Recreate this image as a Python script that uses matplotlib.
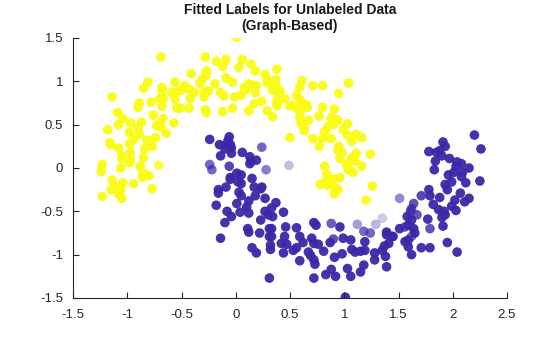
import numpy as np
import matplotlib
matplotlib.use("Agg")
import matplotlib.pyplot as plt

# ---------------- data ----------------
# Class 1 (yellow): x, y
yellow_pts = [
    (-0.69, 1.28), (-1.14, 0.82), (-0.81, 0.99), (-0.85, 0.92), (-0.68, 0.93), (-0.68, 0.90),
    (-0.56, 0.99), (-0.59, 0.87), (-0.53, 0.89), (-0.89, 0.75), (-0.90, 0.70), (-0.78, 0.76),
    (-0.70, 0.80), (-0.67, 0.80), (-0.56, 0.79), (-0.68, 0.71), (-0.54, 0.69), (-1.09, 0.64),
    (-1.04, 0.57), (-1.08, 0.50), (-0.97, 0.52), (-0.87, 0.53), (-0.76, 0.61), (-0.67, 0.57),
    (-0.73, 0.49), (-0.70, 0.51), (-0.69, 0.47), (-0.57, 0.52), (-0.64, 0.40), (-0.90, 0.46),
    (-1.18, 0.44), (-0.98, 0.41), (-0.89, 0.39), (-0.94, 0.33), (-0.82, 0.32), (-0.74, 0.35),
    (-1.16, 0.29), (-1.15, 0.27), (-0.98, 0.28), (-1.08, 0.23), (-0.77, 0.25), (-0.84, 0.22),
    (-0.97, 0.18), (-1.05, 0.14), (-1.05, 0.11), (-0.97, 0.09), (-0.98, 0.06), (-0.85, 0.12),
    (-1.23, 0.04), (-1.06, 0.00), (-0.88, 0.02), (-0.71, 0.03),
    (-1.24, -0.04), (-0.86, -0.05), (-0.86, -0.11), (-0.82, -0.08), (-0.80, -0.09), (-1.14, -0.14),
    (-1.04, -0.17), (-0.94, -0.18), (-1.10, -0.22), (-1.15, -0.25), (-1.06, -0.25), (-1.08, -0.30),
    (-1.05, -0.35), (-1.23, -0.33), (-0.77, -0.24),
    (0.01, 1.51), (-0.28, 1.28), (-0.18, 1.23), (-0.09, 1.25), (-0.12, 1.17), (0.06, 1.25),
    (0.03, 1.16), (0.14, 1.20), (0.18, 1.12), (0.38, 1.14), (0.27, 1.08), (0.29, 1.02),
    (0.29, 0.98), (0.37, 1.02), (0.37, 0.95), (-0.41, 1.09), (-0.27, 1.12), (-0.27, 1.07),
    (-0.31, 1.02), (-0.33, 0.98), (-0.09, 1.04), (-0.03, 0.99), (-0.19, 0.97), (-0.47, 0.95),
    (-0.43, 0.91), (-0.38, 0.87), (-0.51, 0.89), (-0.42, 0.80), (-0.43, 0.69), (-0.51, 0.69),
    (-0.29, 0.88), (-0.25, 0.89), (-0.29, 0.82), (-0.14, 0.87), (-0.11, 0.83), (-0.01, 0.82),
    (0.05, 0.84), (0.08, 0.93), (0.12, 0.97), (0.15, 0.96), (0.19, 0.95), (0.09, 0.90),
    (0.18, 0.87), (0.34, 0.90), (0.38, 0.89), (0.41, 0.89), (0.45, 0.80), (0.38, 0.79),
    (0.38, 0.74), (0.38, 0.72), (0.24, 0.77), (0.17, 0.74), (-0.28, 0.67), (-0.27, 0.64),
    (-0.12, 0.65), (-0.03, 0.69), (0.12, 0.66), (0.29, 0.66), (0.34, 0.59), (0.50, 0.72),
    (0.61, 1.01), (0.59, 0.93), (0.71, 0.95), (0.80, 0.95), (1.04, 0.98), (0.95, 0.86),
    (0.56, 0.84), (0.59, 0.79), (0.61, 0.74), (0.65, 0.73), (0.66, 0.70), (0.52, 0.72),
    (0.56, 0.69), (0.60, 0.67), (0.80, 0.70), (0.91, 0.68), (0.59, 0.59), (0.67, 0.55),
    (0.60, 0.52), (0.63, 0.46), (0.63, 0.43), (0.77, 0.60), (0.88, 0.58), (0.92, 0.56),
    (0.94, 0.55), (0.90, 0.50), (0.85, 0.48), (0.82, 0.42), (1.03, 0.51), (0.99, 0.44),
    (1.03, 0.38), (1.07, 0.31), (1.11, 0.39), (1.16, 0.35), (0.71, 0.34), (0.80, 0.34),
    (0.88, 0.34), (0.77, 0.25), (0.95, 0.25), (0.94, 0.21), (0.98, 0.18), (0.96, 0.11),
    (1.11, 0.17), (1.08, 0.12), (1.10, 0.08), (1.06, 0.09), (1.02, 0.05), (1.03, 0.01),
    (1.24, 0.16), (1.16, 0.02), (1.04, -0.02), (1.08, -0.05),
    (0.84, -0.07), (0.83, -0.15), (0.90, -0.13), (0.96, -0.11), (0.78, -0.19), (0.88, -0.18),
    (0.92, -0.23), (0.94, -0.25), (0.91, -0.30), (0.85, -0.20),
    (0.50, 0.35), (0.82, 0.02), (1.26, -0.21), (1.20, -0.37),
]
yellow_alpha_overrides = {51: 0.8, 202: 0.8, 203: 0.6, 204: 0.8, 205: 0.3}

# Class 0 (dark blue): x, y
blue_pts = [
    (-0.24, 0.33), (-0.06, 0.36), (-0.07, 0.32), (-0.09, 0.27), (-0.15, 0.27), (-0.05, 0.27),
    (-0.04, 0.23), (-0.10, 0.22), (-0.14, 0.14), (-0.04, 0.17), (0.06, 0.18), (0.24, 0.24),
    (0.13, 0.13), (0.14, 0.08), (0.19, 0.09), (0.13, 0.05), (-0.24, 0.04), (-0.22, -0.02),
    (-0.06, 0.02), (0.28, -0.02), (0.49, 0.03),
    (0.01, -0.06), (0.05, -0.08), (-0.05, -0.11), (-0.05, -0.13), (0.02, -0.16), (0.05, -0.18),
    (0.15, -0.12), (0.17, -0.22), (0.23, -0.24), (0.24, -0.22), (-0.09, -0.22), (-0.16, -0.25),
    (-0.16, -0.29), (0.03, -0.28), (0.05, -0.32), (0.18, -0.32), (0.27, -0.35), (0.12, -0.38),
    (0.37, -0.40), (0.33, -0.46), (0.27, -0.50), (0.30, -0.54), (0.01, -0.41), (0.10, -0.45),
    (0.04, -0.51), (0.12, -0.52), (-0.18, -0.43), (-0.08, -0.50), (-0.04, -0.56), (-0.10, -0.63),
    (0.23, -0.60), (0.34, -0.56), (0.44, -0.51), (0.11, -0.70), (0.12, -0.74), (0.22, -0.75),
    (0.31, -0.70), (0.33, -0.70), (0.31, -0.79), (0.33, -0.79), (0.46, -0.68), (0.45, -0.79),
    (-0.14, -0.81), (0.42, -0.87), (0.47, -0.88), (0.15, -0.92), (0.19, -0.98), (0.32, -0.89),
    (0.32, -0.94), (0.44, -0.98), (0.31, -1.27),
    (0.56, -0.69), (0.59, -0.79), (0.62, -0.86), (0.56, -0.92), (0.53, -0.95), (0.59, -1.07),
    (0.72, -0.63), (0.74, -0.66), (0.70, -0.81), (0.72, -0.87), (0.76, -0.88), (0.67, -0.97),
    (0.69, -1.01), (0.72, -1.06), (0.73, -1.11), (0.72, -1.27), (0.81, -0.96), (0.87, -0.86),
    (0.90, -0.82), (0.88, -0.64), (0.96, -0.68), (0.99, -0.81), (1.06, -0.83), (1.19, -0.85),
    (1.07, -0.94), (1.10, -0.97), (1.15, -0.96), (1.19, -0.95), (0.98, -0.99), (0.91, -1.03),
    (0.88, -1.17), (0.83, -1.23), (0.92, -1.25), (1.03, -1.16), (1.06, -1.25), (1.18, -1.12),
    (1.15, -1.20), (1.01, -1.49), (1.12, -0.65), (1.18, -0.73), (1.24, -0.75), (1.29, -0.65),
    (1.35, -0.58), (1.39, -0.74), (1.39, -0.77), (1.44, -0.79), (1.37, -0.90), (1.41, -0.87),
    (1.28, -0.98), (1.35, -0.95), (1.28, -1.06), (1.38, -1.02), (1.39, -1.14),
    (2.20, 0.38), (2.26, 0.22), (1.91, 0.30), (1.93, 0.25), (1.78, 0.19), (1.85, 0.18),
    (1.88, 0.20), (1.90, 0.14), (1.84, 0.08), (1.97, 0.11), (1.83, -0.02), (2.04, 0.07),
    (2.08, 0.05), (2.03, 0.02), (2.15, 0.00), (2.09, -0.05), (2.01, -0.05), (1.96, -0.08),
    (2.08, -0.10), (2.12, -0.17), (2.25, -0.15), (1.93, -0.19), (1.95, -0.25), (1.99, -0.16),
    (1.78, -0.25), (1.79, -0.32), (1.88, -0.34), (1.71, -0.32), (1.51, -0.35), (2.07, -0.29),
    (2.02, -0.37), (2.15, -0.35), (2.11, -0.39), (1.99, -0.44), (2.03, -0.49), (1.82, -0.42),
    (1.87, -0.48), (1.92, -0.50), (1.90, -0.57), (1.93, -0.54), (1.77, -0.59), (1.91, -0.67),
    (1.79, -0.70), (1.64, -0.41), (1.62, -0.47), (1.61, -0.50), (1.67, -0.54), (1.58, -0.56),
    (1.62, -0.60), (1.59, -0.66), (1.56, -0.68), (1.51, -0.70), (1.64, -0.70), (1.65, -0.75),
    (1.62, -0.79), (1.59, -0.83), (1.56, -0.85), (1.45, -0.79), (1.95, -0.86), (1.59, -0.91),
    (1.71, -0.92), (1.79, -0.92), (1.62, -1.00), (2.04, -0.97),
]
blue_alpha_overrides = {
    11: 0.7, 16: 0.7, 17: 0.7, 18: 0.85, 19: 0.6, 20: 0.3,
    90: 0.8, 91: 0.75, 110: 0.45, 111: 0.7, 112: 0.7, 113: 0.35, 114: 0.25,
    152: 0.85, 153: 0.55, 167: 0.8, 168: 0.8, 169: 0.8, 170: 0.8, 171: 0.8,
    175: 0.8, 179: 0.7,
}

title_lines = ["Fitted Labels for Unlabeled Data", "(Graph-Based)"]
xticks = [-1.5, -1, -0.5, 0, 0.5, 1, 1.5, 2, 2.5]
yticks = [-1.5, -1, -0.5, 0, 0.5, 1, 1.5]
xticklabels = ["-1.5", "-1", "-0.5", "0", "0.5", "1", "1.5", "2", "2.5"]
yticklabels = ["-1.5", "-1", "-0.5", "0", "0.5", "1", "1.5"]

# ---------------- plotting ----------------
plt.rcParams['font.family'] = ['Liberation Sans', 'DejaVu Sans']
c_blue = (0.2422, 0.1504, 0.6603)
c_yel = (0.9769, 0.9839, 0.0805)
axis_col = (0.15, 0.15, 0.15)

fig = plt.figure(figsize=(5.6, 3.37), dpi=100)
ax = fig.add_axes([73/560, 1 - 298/337, (507-73)/560, (298-38)/337])

def rgba(pts, col, overrides, default=0.95):
    out = []
    for i in range(len(pts)):
        out.append((*col, overrides.get(i, default)))
    return np.array(out)

bx = [p[0] for p in blue_pts]; by = [p[1] for p in blue_pts]
yx = [p[0] for p in yellow_pts]; yy = [p[1] for p in yellow_pts]
ax.scatter(bx, by, s=48, c=rgba(blue_pts, c_blue, blue_alpha_overrides), linewidths=0)
ax.scatter(yx, yy, s=48, c=rgba(yellow_pts, c_yel, yellow_alpha_overrides), linewidths=0)

ax.set_xlim(-1.5, 2.5)
ax.set_ylim(-1.5, 1.5)
ax.set_xticks(xticks)
ax.set_xticklabels(xticklabels)
ax.set_yticks(yticks)
ax.set_yticklabels(yticklabels)
for s in ['top', 'right']:
    ax.spines[s].set_visible(False)
for s in ['left', 'bottom']:
    ax.spines[s].set_color(axis_col)
    ax.spines[s].set_linewidth(0.8)
ax.tick_params(direction='in', length=4, width=0.8, colors=axis_col, labelsize=9.5)
ax.tick_params(axis='x', pad=8)
ax.tick_params(axis='y', pad=7)
ax.set_title("\n".join(title_lines), fontsize=10, fontweight='bold', color=(0.1, 0.1, 0.1),
             pad=6, linespacing=1.15)

fig.savefig("out.png", dpi=100)
